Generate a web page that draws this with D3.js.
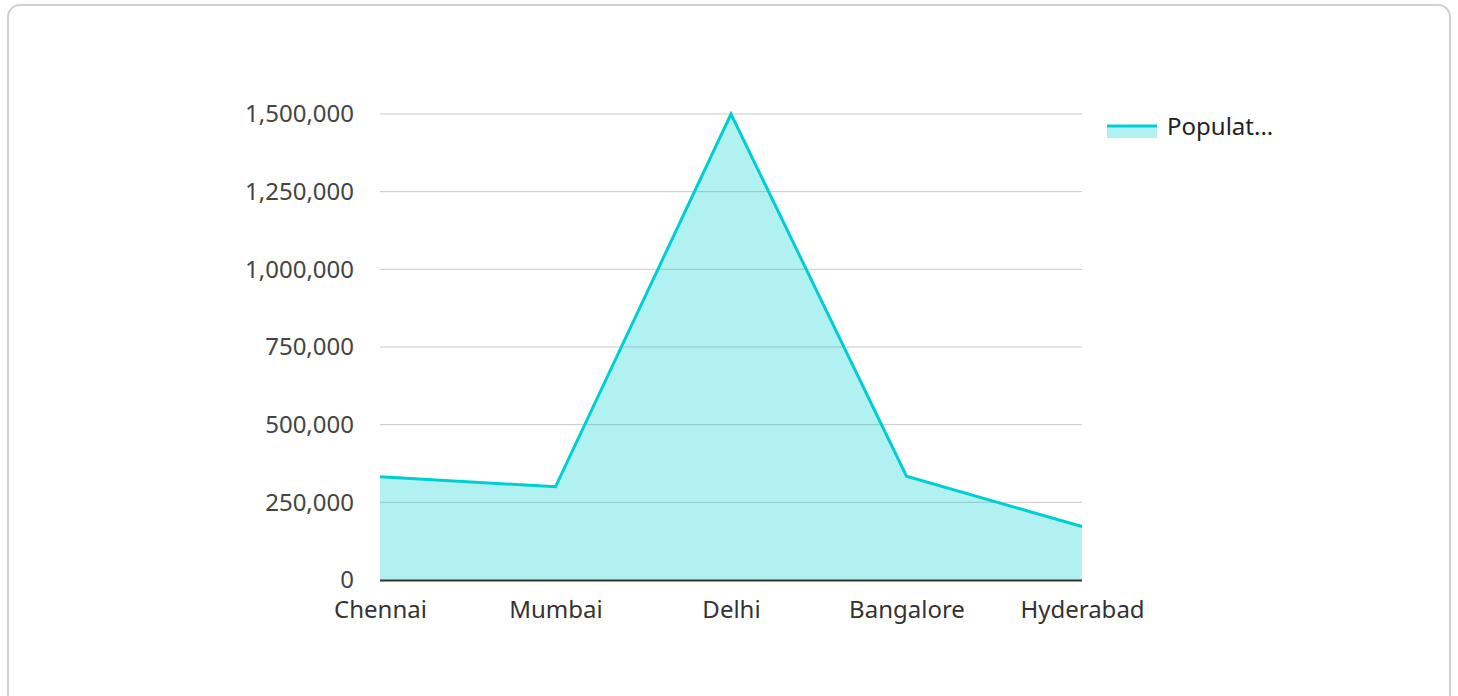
<!DOCTYPE html>
<html>
<head>
<meta charset="utf-8">
<script src="https://cdn.jsdelivr.net/npm/d3@7"></script>
<style>
  body { margin: 0; background: #fff; }
  svg { display: block; font-family: "Noto Sans", "Open Sans", sans-serif; }
</style>
</head>
<body>
<div id="chart-area"></div>
<script>
let cities = ["Chennai", "Mumbai", "Delhi", "Bangalore", "Hyderabad"]
let population = [332000, 300000, 1500000, 334000, 172000]
let yTicks = [0, 250000, 500000, 750000, 1000000, 1250000, 1500000]
let seriesName = "Population"

let width = 1458
let height = 696
let margin = { top: 114, right: 376, bottom: 116, left: 380 }
let plotWidth = width - margin.left - margin.right
let plotHeight = height - margin.top - margin.bottom

let lineColor = "#00cfd1"
let fontSize = "24px"

let svg = d3.select("#chart-area").append("svg")
  .attr("width", width)
  .attr("height", height)

// card
svg.append("rect")
  .attr("x", 8).attr("y", 5)
  .attr("width", 1442).attr("height", 720)
  .attr("rx", 12)
  .attr("fill", "#fff")
  .attr("stroke", "#d0d0d0")
  .attr("stroke-width", 2)

let g = svg.append("g")
  .attr("transform", "translate(" + margin.left + "," + margin.top + ")")

let x = d3.scalePoint()
  .domain(cities)
  .range([0, plotWidth])

let y = d3.scaleLinear()
  .domain([0, 1500000])
  .range([plotHeight, 0])

// grid lines
g.selectAll(".grid")
  .data(yTicks.slice(1))
  .enter().append("line")
    .attr("class", "grid")
    .attr("x1", 0).attr("x2", plotWidth)
    .attr("y1", d => y(d)).attr("y2", d => y(d))
    .attr("stroke", "#c8c8c8")
    .attr("stroke-width", 1)

// y axis labels
let yAxis = d3.axisLeft(y)
  .tickValues(yTicks)
  .tickSize(0)
  .tickPadding(26)
  .tickFormat(d3.format(","))
let yAxisGroup = g.append("g").call(yAxis)
yAxisGroup.select(".domain").remove()
yAxisGroup.selectAll("text")
  .attr("fill", "#444")
  .style("font-size", fontSize)
  .style("font-family", "'Noto Sans', sans-serif")

let data = cities.map((c, i) => ({ city: c, value: population[i] }))

// area
let area = d3.area()
  .x(d => x(d.city))
  .y0(y(0))
  .y1(d => y(d.value))
g.append("path")
  .datum(data)
  .attr("d", area)
  .attr("fill", lineColor)
  .attr("fill-opacity", 0.3)

// line
let line = d3.line()
  .x(d => x(d.city))
  .y(d => y(d.value))
g.append("path")
  .datum(data)
  .attr("d", line)
  .attr("fill", "none")
  .attr("stroke", lineColor)
  .attr("stroke-width", 3)
  .attr("stroke-linejoin", "miter")

// baseline
g.append("line")
  .attr("x1", 0).attr("x2", plotWidth)
  .attr("y1", y(0) + 0.5).attr("y2", y(0) + 0.5)
  .attr("stroke", "#333")
  .attr("stroke-width", 2)

// x axis labels
let xAxis = d3.axisBottom(x).tickSize(0).tickPadding(21)
let xAxisGroup = g.append("g")
  .attr("transform", "translate(0," + plotHeight + ")")
  .call(xAxis)
xAxisGroup.select(".domain").remove()
xAxisGroup.selectAll("text")
  .attr("fill", "#333")
  .style("font-size", fontSize)
  .style("font-family", "'Noto Sans', sans-serif")

// legend
let legend = svg.append("g")
  .attr("transform", "translate(1107,125)")
legend.append("rect")
  .attr("x", 0).attr("y", 0)
  .attr("width", 50).attr("height", 13)
  .attr("fill", lineColor)
  .attr("fill-opacity", 0.3)
legend.append("line")
  .attr("x1", 0).attr("x2", 50)
  .attr("y1", 1).attr("y2", 1)
  .attr("stroke", lineColor)
  .attr("stroke-width", 3)
legend.append("text")
  .attr("x", 60).attr("y", 10)
  .attr("fill", "#222")
  .style("font-size", fontSize)
  .text(seriesName.slice(0, 7) + "...")
</script>
</body>
</html>
